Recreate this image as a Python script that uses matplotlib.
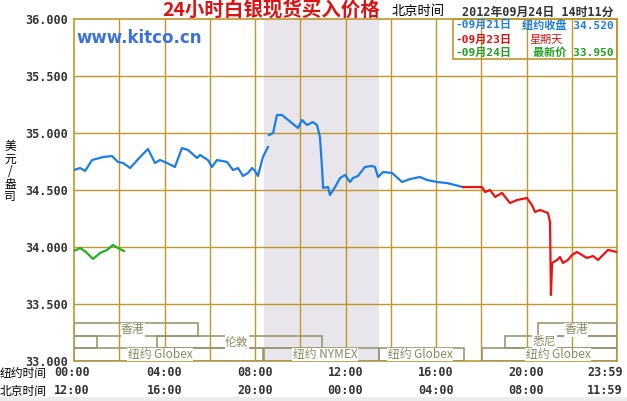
import numpy as np
import matplotlib
matplotlib.use("Agg")
import matplotlib.pyplot as plt
from matplotlib.patches import Rectangle

# 数据 (纽约时间, 小时; 价格 美元/盎司)
blue_h = [0.0, 0.27, 0.49, 0.80, 1.28, 1.68, 1.94, 2.17, 2.48, 2.92, 3.27, 3.58, 3.80, 4.11,
          4.46, 4.77, 5.04, 5.44, 5.57, 5.92, 6.10, 6.32, 6.76, 7.03, 7.25, 7.47, 7.69, 7.87,
          8.00, 8.13, 8.35, 8.57, 8.60, 8.62, 8.80, 8.97, 9.19, 9.41, 9.68, 9.90, 10.08, 10.30,
          10.56, 10.74, 10.87, 10.96, 11.01, 11.23, 11.31, 11.54, 11.76, 11.98, 12.20, 12.33,
          12.55, 12.86, 13.17, 13.30, 13.44, 13.66, 14.06, 14.50, 14.85, 15.29, 15.60, 16.04,
          16.49, 17.19]
blue_p = [34.675, 34.693, 34.667, 34.763, 34.789, 34.798, 34.746, 34.737, 34.693, 34.789,
          34.860, 34.737, 34.763, 34.737, 34.702, 34.868, 34.851, 34.781, 34.807, 34.763,
          34.702, 34.763, 34.746, 34.675, 34.693, 34.623, 34.649, 34.693, 34.667, 34.623,
          34.789, 34.877, np.nan, 34.982, 35.000, 35.158, 35.158, 35.123, 35.079, 35.044,
          35.114, 35.070, 35.096, 35.070, 34.965, 34.702, 34.518, 34.526, 34.456, 34.526,
          34.605, 34.632, 34.570, 34.605, 34.623, 34.702, 34.711, 34.702, 34.614, 34.658,
          34.649, 34.570, 34.596, 34.614, 34.588, 34.570, 34.561, 34.526]

red_h = [17.19, 18.03, 18.17, 18.39, 18.61, 18.92, 19.27, 19.58, 20.02, 20.24, 20.38, 20.60,
         20.95, 21.04, 21.08, 21.13, 21.35, 21.48, 21.61, 21.83, 22.01, 22.23, 22.67, 22.94,
         23.16, 23.60, 24.0]
red_p = [34.526, 34.526, 34.482, 34.500, 34.439, 34.474, 34.386, 34.412, 34.430, 34.368,
         34.307, 34.325, 34.298, 34.219, 33.579, 33.860, 33.886, 33.912, 33.860, 33.886,
         33.930, 33.956, 33.904, 33.921, 33.886, 33.974, 33.956]

green_h = [0.0, 0.27, 0.53, 0.84, 1.15, 1.46, 1.72, 1.94, 2.21]
green_p = [33.965, 33.991, 33.956, 33.895, 33.947, 33.974, 34.018, 33.991, 33.965]

ny_ticks = ["00:00", "04:00", "08:00", "12:00", "16:00", "20:00", "23:59"]
bj_ticks = ["12:00", "16:00", "20:00", "00:00", "04:00", "08:00", "11:59"]
y_ticks = [33.0, 33.5, 34.0, 34.5, 35.0, 35.5, 36.0]

# 交易时段: (行, 起, 止, 名称, 标签位置)
sessions = [
    (0, 0.0, 5.48, "香港", 2.6),
    (0, 20.5, 24.0, "香港", 22.2),
    (1, 0.0, 1.0, "", 0),
    (1, 3.67, 10.96, "伦敦", 7.2),
    (1, 19.05, 24.0, "悉尼", 20.8),
    (2, 0.0, 8.35, "纽约 Globex", 3.8),
    (2, 8.4, 13.5, "纽约 NYMEX", 11.1),
    (2, 13.5, 17.25, "纽约 Globex", 15.3),
    (2, 18.03, 24.0, "纽约 Globex", 21.4),
]
row_y = [(33.219, 33.333), (33.114, 33.219), (33.0, 33.114)]

W, H = 627, 401
gold = "#c0962a"
olive = "#999970"
cjk = ["Noto Sans CJK SC", "DejaVu Sans"]
mono = ["DejaVu Sans Mono", "Noto Sans CJK SC"]

fig = plt.figure(figsize=(W / 100, H / 100), dpi=100)
fig.patch.set_facecolor("white")
ax = fig.add_axes([74 / W, 1 - 361 / H, 543 / W, 342 / H])
ax.set_xlim(0, 24)
ax.set_ylim(33.0, 36.0)

ax.axvspan(8.4, 13.5, color="#e8e6ec", zorder=0, lw=0)
for h in range(2, 24, 2):
    ax.axvline(h, color=gold, lw=1, zorder=1)
for p in y_ticks[1:-1]:
    ax.axhline(p, color=gold, lw=1, zorder=1)
for s in ax.spines.values():
    s.set_color(gold)
    s.set_linewidth(1.2)

ax.plot(blue_h, blue_p, color="#1a7ee6", lw=1.6, zorder=4)
ax.plot(red_h, red_p, color="#ee1111", lw=1.6, zorder=4)
ax.plot(green_h, green_p, color="#22b022", lw=1.6, zorder=4)

for row, a, b, name, lx in sessions:
    y0, y1 = row_y[row]
    ax.add_patch(Rectangle((a, y0), b - a, y1 - y0, fill=False, ec=olive, lw=1.2, zorder=3))
    if name:
        ax.text(lx, (y0 + y1) / 2, name, ha="center", va="center", fontsize=8.5,
                color="#8a8860", family=cjk, zorder=5,
                bbox=dict(fc="white", ec="none", pad=0.3))

ax.set_xticks([])
ax.set_yticks(y_ticks)
ax.set_yticklabels(["%.3f" % v for v in y_ticks], family=mono, fontsize=8.5,
                   fontweight="bold", color="#333333")
ax.tick_params(axis="y", length=0, pad=4)

def px(x, y):
    return x / W, 1 - y / H

# 标题
fig.text(*px(271, 10), "24小时白银现货买入价格", ha="center", va="center", fontsize=14,
         color="#dd1111", family=cjk, fontweight="bold")
fig.text(*px(418, 12), "北京时间", ha="center", va="center", fontsize=9.5, family=cjk)
fig.text(*px(538, 12), "2012年09月24日 14时11分", ha="center", va="center", fontsize=8.5,
         family=mono, fontweight="bold", color="#333333")
fig.text(*px(76, 38), "www.kitco.cn", ha="left", va="center", fontsize=12,
         color="#3a70dd", fontweight="bold", family=["DejaVu Sans"])

# 图例框
fig.patches.append(Rectangle(px(453, 59), 164 / W, 40 / H, transform=fig.transFigure,
                             fill=False, ec=gold, lw=1.2))
leg = [("-09月21日", "纽约收盘 34.520", "#1a7ee6", 25, None),
       ("-09月23日", "星期天", "#dd1111", 40, 529),
       ("-09月24日", "最新价 33.950", "#22a022", 53, None)]
for left, right, c, y, rx in leg:
    fig.text(*px(455, y), left, va="center", fontsize=8, family=mono,
             fontweight="bold", color=c)
    if rx is None:
        fig.text(*px(614, y), right, ha="right", va="center", fontsize=8,
                 family=mono, fontweight="bold", color=c)
    else:
        fig.text(*px(rx, y), right, va="center", fontsize=8, family=mono, color=c)

# 纵轴标题
fig.text(*px(10, 172), "美\n元\n/\n盎\n司", ha="center", va="center", fontsize=8.5,
         family=cjk, linespacing=0.95)

# 横轴时间
fig.text(*px(0, 373), "纽约时间", va="center", fontsize=8.5, family=cjk)
fig.text(*px(0, 391), "北京时间", va="center", fontsize=8.5, family=cjk)
for i, (a, b) in enumerate(zip(ny_ticks, bj_ticks)):
    x = 74 + i * 4 * 22.625
    if i == 6:
        x = 605
    elif i == 0:
        x = 72
    fig.text(*px(x, 373), a, ha="center", va="center", fontsize=8.5, family=mono,
             fontweight="bold", color="#333333")
    fig.text(*px(x, 391), b, ha="center", va="center", fontsize=8.5, family=mono,
             fontweight="bold", color="#333333")

fig.patches.append(Rectangle((0, 0), 1, 4 / H, transform=fig.transFigure,
                             fc="#ececec", ec="none"))

fig.savefig("out.png", dpi=100)
